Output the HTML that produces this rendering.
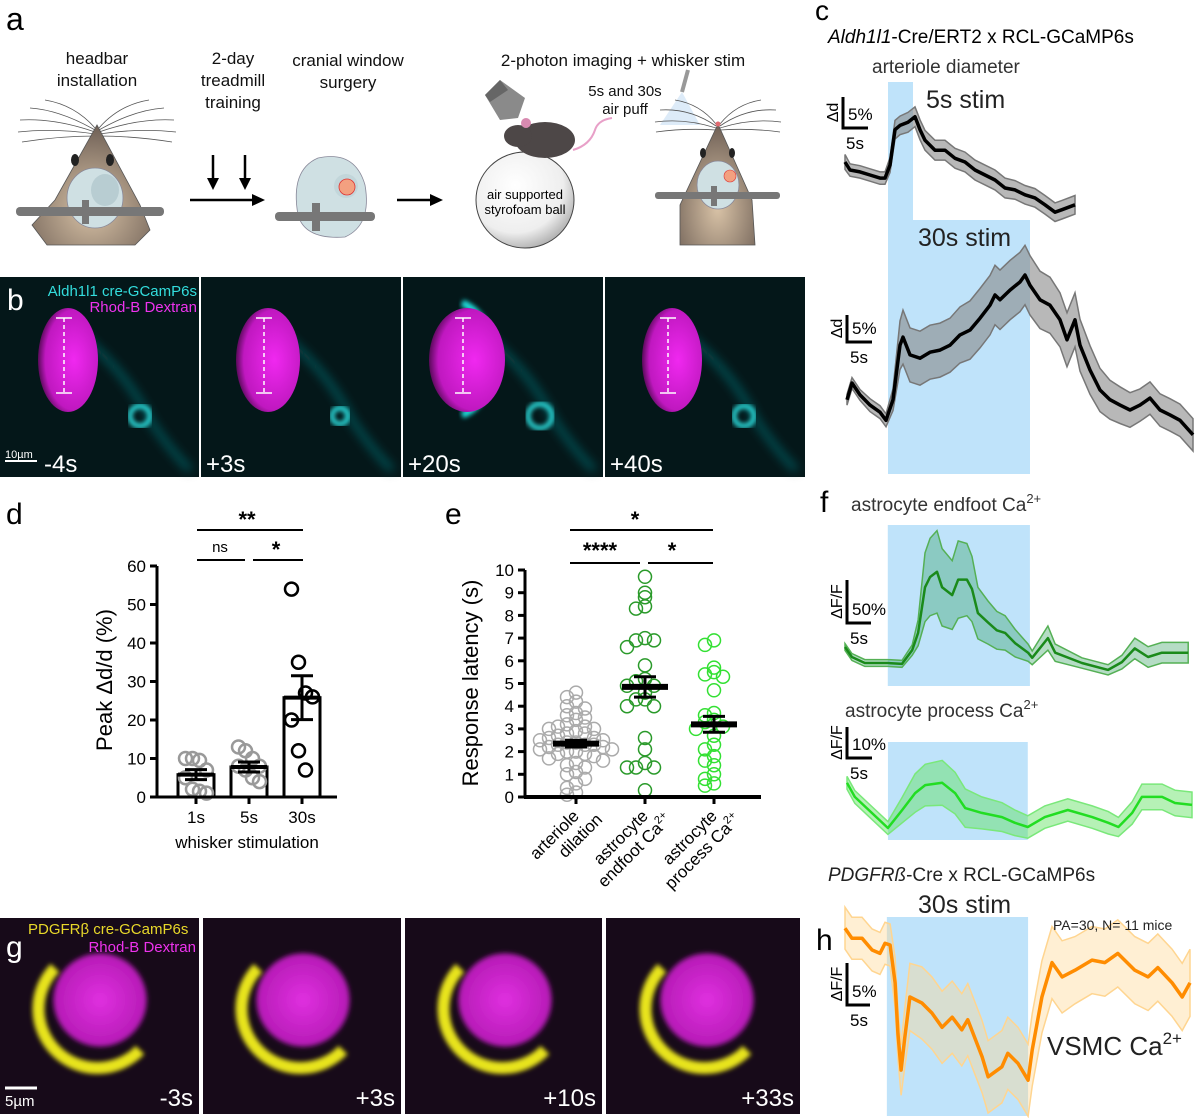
<!DOCTYPE html>
<html><head><meta charset="utf-8">
<style>
html,body{margin:0;padding:0;background:#fff;}
svg{display:block;font-family:"Liberation Sans",Arial,sans-serif;}
</style></head>
<body>
<svg id="fig" width="1200" height="1118" viewBox="0 0 1200 1118" xmlns="http://www.w3.org/2000/svg">
<defs>
<radialGradient id="ballg" cx="0.4" cy="0.35" r="0.7"><stop offset="0" stop-color="#fff"/><stop offset="0.7" stop-color="#eee"/><stop offset="1" stop-color="#aaa"/></radialGradient>
<radialGradient id="headg" cx="0.5" cy="0.7" r="0.7"><stop offset="0" stop-color="#d8c2a6"/><stop offset="1" stop-color="#6e5f55"/></radialGradient>
<radialGradient id="magb" cx="0.6" cy="0.5" r="0.6"><stop offset="0" stop-color="#f028f0"/><stop offset="0.8" stop-color="#c018c0"/><stop offset="1" stop-color="#5a0a5a"/></radialGradient>
<radialGradient id="magg" cx="0.5" cy="0.5" r="0.55"><stop offset="0" stop-color="#e030e0"/><stop offset="0.85" stop-color="#b81cb8"/><stop offset="1" stop-color="#3a0c3c"/></radialGradient>
<filter id="blur2"><feGaussianBlur stdDeviation="2.5"/></filter>
<filter id="blur4"><feGaussianBlur stdDeviation="5"/></filter>
</defs>

<!-- Panel a -->
<g>
<text x="6" y="30" font-size="32">a</text>
<g font-size="17" text-anchor="middle" fill="#111">
<text x="97" y="64"><tspan x="97">headbar</tspan><tspan x="97" dy="22">installation</tspan></text>
<text x="233" y="64"><tspan x="233">2-day</tspan><tspan x="233" dy="22">treadmill</tspan><tspan x="233" dy="22">training</tspan></text>
<text x="348" y="66"><tspan x="348">cranial window</tspan><tspan x="348" dy="22">surgery</tspan></text>
<text x="623" y="66">2-photon imaging + whisker stim</text>
<text x="625" y="96" font-size="15"><tspan x="625">5s and 30s</tspan><tspan x="625" dy="18">air puff</tspan></text>
</g>
<g>
<g stroke="#555" stroke-width="0.8" fill="none">
<path d="M95 130 Q60 110 30 108"/><path d="M95 132 Q55 118 20 120"/><path d="M95 134 Q55 128 18 132"/><path d="M95 136 Q60 136 22 142"/><path d="M95 128 Q75 105 45 100"/>
<path d="M99 130 Q134 110 164 108"/><path d="M99 132 Q139 118 174 120"/><path d="M99 134 Q139 128 176 132"/><path d="M99 136 Q134 136 172 142"/><path d="M99 128 Q119 105 149 100"/>
</g>
<path d="M97 125 L140 205 L150 230 L135 245 L47 245 L32 225 L55 200 Z" fill="url(#headg)" stroke="#555" stroke-width="0.8"/>
<ellipse cx="75" cy="160" rx="4" ry="6" fill="#222"/><ellipse cx="110" cy="160" rx="4" ry="6" fill="#222"/>
<ellipse cx="95" cy="198" rx="28" ry="30" fill="#cfe0e3" stroke="#889" stroke-width="0.8"/>
<ellipse cx="105" cy="190" rx="14" ry="16" fill="#b8cdd2"/>
<rect x="16" y="207" width="148" height="9" rx="4" fill="#777"/><rect x="82" y="200" width="7" height="24" fill="#777"/>
</g>
<g stroke="#000" stroke-width="2.5" fill="#000">
<line x1="213" y1="155" x2="213" y2="180"/><polygon points="207,178 219,178 213,190" stroke="none"/>
<line x1="245" y1="155" x2="245" y2="180"/><polygon points="239,178 251,178 245,190" stroke="none"/>
<line x1="190" y1="200" x2="255" y2="200"/><polygon points="252,194 265,200 252,206" stroke="none"/>
<line x1="397" y1="200" x2="432" y2="200"/><polygon points="430,194 443,200 430,206" stroke="none"/>
</g>
<g>
<path d="M318 158 Q355 150 365 185 Q372 225 345 237 Q305 240 298 215 Q290 170 318 158 Z" fill="#cfe0e3" stroke="#889" stroke-width="0.8"/>
<circle cx="346" cy="186" r="12" fill="#c2d6da"/><circle cx="347" cy="187" r="8" fill="#f3a080" stroke="#d33" stroke-width="0.8"/>
<rect x="275" y="212" width="100" height="9" rx="4" fill="#777"/><rect x="312" y="203" width="8" height="28" fill="#777"/>
</g>
<g>
<ellipse cx="525" cy="200" rx="49" ry="48" fill="url(#ballg)" stroke="#444" stroke-width="1"/>
<text x="525" y="199" font-size="13" text-anchor="middle">air supported</text>
<text x="525" y="214" font-size="13" text-anchor="middle">styrofoam ball</text>
</g>
<g>
<polygon points="485,95 500,80 525,98 518,118 500,120" fill="#8a8a8a"/><polygon points="485,95 500,80 508,90 490,102" fill="#666"/>
<ellipse cx="545" cy="140" rx="30" ry="18" fill="#4d4747"/><ellipse cx="518" cy="136" rx="14" ry="11" fill="#4d4747"/>
<circle cx="526" cy="123" r="5" fill="#d88ab0"/>
<path d="M573 150 Q590 145 595 130 Q598 120 612 118" stroke="#e8a0c8" stroke-width="2" fill="none"/>
</g>
<g>
<line x1="688" y1="70" x2="682" y2="92" stroke="#999" stroke-width="4"/>
<polygon points="682,92 660,125 700,125" fill="#cfe3f5" opacity="0.7"/>
</g>
<g>
<g stroke="#555" stroke-width="0.8" fill="none">
<path d="M716 126 Q690 108 660 110"/><path d="M716 128 Q685 118 655 122"/><path d="M716 130 Q685 128 656 132"/><path d="M716 124 Q700 104 675 100"/>
<path d="M720 126 Q746 108 776 110"/><path d="M720 128 Q751 118 781 122"/><path d="M720 130 Q751 128 780 132"/><path d="M720 124 Q736 104 761 100"/>
</g>
<path d="M718 124 L752 200 L755 245 L680 245 L680 205 Z" fill="url(#headg)" stroke="#555" stroke-width="0.8"/>
<circle cx="718" cy="124" r="2.5" fill="#e06a70"/>
<ellipse cx="703" cy="153" rx="3" ry="5" fill="#222"/><ellipse cx="732" cy="153" rx="3" ry="5" fill="#222"/>
<ellipse cx="718" cy="185" rx="21" ry="24" fill="#cfe0e3" stroke="#889" stroke-width="0.8"/>
<circle cx="730" cy="176" r="6" fill="#f3a080" stroke="#d33" stroke-width="0.6"/>
<rect x="655" y="192" width="125" height="7" rx="3" fill="#777"/><rect x="711" y="186" width="6" height="20" fill="#777"/>
</g>
</g>

<g id="panelb">
<rect x="0" y="277" width="805" height="200" fill="#041719"/>
<g stroke="#fff" stroke-width="2">
<line x1="200" y1="277" x2="200" y2="477"/><line x1="402" y1="277" x2="402" y2="477"/><line x1="604" y1="277" x2="604" y2="477"/>
</g>
</g>

<g id="panelg">
<rect x="0" y="918" width="800" height="196" fill="#170a19"/>
<g stroke="#fff" stroke-width="4">
<line x1="201" y1="918" x2="201" y2="1114"/><line x1="403" y1="918" x2="403" y2="1114"/><line x1="604" y1="918" x2="604" y2="1114"/>
</g>
</g>

<g id="charts"></g>
</svg>

<script>
// ---------- DATA ----------
const dCategories = ["1s","5s","30s"];
const dMeans = [5.8, 7.8, 25.8];
const dSems = [1.3, 1.3, 5.7];
const d1s = [10, 10, 9.5, 7, 5, 2, 1.5, 1];
const d5s = [13, 12, 10, 8, 8, 7, 5, 4];
const d30s = [54, 35, 27, 26, 20, 12, 7];
const dTicks = [0,10,20,30,40,50,60];
const eCategories = [["arteriole","dilation"],["astrocyte","endfoot Ca"],["astrocyte","process Ca"]];
const eMeans = [2.35, 4.85, 3.2];
const eSems = [0.15, 0.45, 0.35];
const eArteriole = [4.6,4.4,4.2,4.0,3.9,3.7,3.6,3.5,3.4,3.2,3.1,3.1,3.0,3.0,2.9,2.8,2.8,2.7,2.6,2.6,2.5,2.5,2.4,2.4,2.3,2.3,2.3,2.2,2.2,2.1,2.1,2.0,2.0,1.9,1.9,1.8,1.7,1.6,1.5,1.4,1.3,1.1,1.0,0.8,0.6,0.4,0.2,0.1];
const eEndfoot = [9.7,9.0,8.8,8.4,8.3,7.0,6.9,6.9,6.6,5.8,5.2,5.1,4.9,4.9,4.6,4.3,4.3,4.0,4.0,2.6,2.1,1.5,1.3,1.3,1.3,0.3];
const eProcess = [6.9,6.7,5.7,5.5,5.4,5.3,4.7,3.7,3.6,3.4,3.3,3.1,3.0,2.7,2.3,2.1,1.8,1.6,1.4,1.0,0.8,0.6,0.5];
const eTicks = [0,1,2,3,4,5,6,7,8,9,10];
const c5T = [0,1,3,5,7,8,9,10,11,12.6,14,15,16,18,20,22,24,26,28,30,32,34,36,38,40,42,43.4,46];
const c5V = [2.1,0.8,0.5,0,-0.5,-0.5,1.6,7.3,8,8.5,9.4,7.3,5.6,4,4,2.7,2.1,0.8,0,-0.8,-2.1,-2.4,-3.2,-3.7,-4.8,-6,-5.6,-4.8];
const c5S = [1.2,1,1,1,1,1,1.2,1.5,1.5,1.6,1.6,1.6,1.6,1.6,1.6,1.6,1.6,1.6,1.6,1.6,1.6,1.5,1.5,1.5,1.5,1.5,1.5,1.5];
const c5Stim = [8.6, 13.6];
const c30T = [0,1,2.6,4.6,6.6,7.8,9.2,10.6,11.2,12.6,14.6,16.6,18.6,20.6,22.6,24.6,26.6,28.6,29.6,30.6,32.6,34.6,35.6,36.6,38.6,40.6,42.6,44,45.6,46.6,48.6,50.6,52.6,54.6,56.6,58.6,60.6,62.6,64.6,66.6,69.2];
const c30V = [1.9,5.0,2.8,0.9,-0.4,-1.9,1.9,12.0,13.5,10.2,9.6,10.7,11.1,12.0,13.9,14.8,17.0,19.4,21.3,20.4,22.2,23.7,25.0,23.1,20.4,19.4,16.7,13.0,16.7,12.0,7.4,3.7,1.9,0.9,0,0.9,2.2,0,-0.9,-1.9,-4.6];
const c30S = [1,1,1,1.2,1.2,1.2,2,4.5,5,5,5,5,5,5,5.2,5.4,5.5,5.5,5.5,5.5,5.5,5.5,5.5,5.5,5.3,5.2,5,5,5,4.8,4.5,4,3.6,3.4,3.2,3,3,3,3,3,3];
const c30Stim = [8.2, 36.6];
const fEndT = [0,1.5,4.3,9.3,12.4,14.6,15.9,17.4,18.5,20,21.1,23.3,24.6,26.5,27.6,28.9,31.1,33,34.8,37,39.8,40.7,44.1,45.7,51.5,57.2,60.2,63,65.9,68.9,71.7,74.6];
const fEndV = [18.6,7,0,0,-1,15,35,88,100,106,88,79,97,97,86,58,47,38,35,23,12,6,29,12,0,-8,1,17,7,12,12,12];
const fEndS = [4,4,4,4,4,6,15,40,45,48,45,40,45,42,38,30,25,22,20,16,10,8,14,10,6,6,8,12,12,12,12,12];
const fEndStim = [9.3, 40.2];
const fProT = [0,1.7,5.4,8.9,12,14.8,17,20.7,23.5,25.7,29.3,33.7,36.5,39.3,43,48,53.3,56.8,59,62,64.1,68.5,71.3,75];
const fProV = [13.8,9.4,4.4,-0.3,5.3,10.6,13.1,13.8,10.6,5.9,4.4,3.1,1.3,0,3.1,5.3,3.1,1.3,0,4.4,9.4,9.4,7.5,6.9];
const fProS = [2,2,2,2,4,6,6.5,7,6.5,6,5,4.5,4,3.5,3.5,3.5,3.5,3.5,3,3.5,4,4,4,4];
const fProStim = [8.9, 39.3];
const hT = [0,1.5,3.7,5.9,7.6,8.7,9.8,10.9,11.5,12.2,13,14.1,16.7,18.9,21.1,23.3,25.4,26.7,29.8,31.1,34.1,35.4,37.6,39.8,40.7,42.8,45,47.2,50,53.7,56.5,59.3,63,65.9,68,71.1,73.3,75];
const hV = [2.6,1.4,1.4,0,-0.4,0.8,0.6,-3.9,-9.9,-14.3,-10.4,-5.6,-6.3,-7.5,-9.2,-8,-9.5,-8.3,-12.7,-15.1,-13.9,-12.3,-13.5,-15.5,-11.9,-5.6,-1.5,-3.2,-2.4,-1.2,-1.5,-0.4,-2.4,-3.2,-2.1,-3.9,-5.6,-3.9];
const hS = [2.5,2.5,2.5,2.5,2.5,2.5,2.5,3,3,3,3.5,4,4.3,4.3,4.3,4.3,4.3,4.3,4.3,4.3,4.3,4.3,4.3,4.3,4.3,4.3,4.3,4.3,4,4,4,4,4,4,4,4,4,4];
const hStim = [9.1, 39.8];

// ---------- HELPERS ----------
const NS = "http://www.w3.org/2000/svg";
const root = document.getElementById("charts");
function mk(tag, attrs, parent){
  const e = document.createElementNS(NS, tag);
  for (const k in attrs) e.setAttribute(k, attrs[k]);
  (parent||root).appendChild(e);
  return e;
}
function txt(str, x, y, size, parent, extra){
  const e = mk("text", Object.assign({x:x, y:y, "font-size":size}, extra||{}), parent);
  e.textContent = str;
  return e;
}
function linScale(d0,d1,r0,r1){ return v => r0 + (v-d0)*(r1-r0)/(d1-d0); }

// ---------- Panel b & g images ----------
(function(){
  const pb = document.getElementById("panelb");
  const frames = [0, 202, 404, 606];
  const vx = [68, 66, 63, 66];
  const vr = [30, 32, 38, 30];
  const cellX = [140, 138, 136, 138];
  const cellR = [10, 8, 12, 10];
  const tl = ["-4s","+3s","+20s","+40s"];
  frames.forEach((fx,i)=>{
    const g = mk("g", {}, pb);
    
    
    mk("path", {d:`M${fx+60} 320 Q${fx+120} 360 ${fx+150} 420 Q${fx+170} 450 ${fx+190} 470`, stroke:"#0a5a5e", "stroke-width":6, fill:"none", filter:"url(#blur4)"}, g);
    if (i===2) mk("path",{d:`M${fx+vx[i]-5} 303 A${vr[i]+4} 58 0 0 1 ${fx+vx[i]-5} 415`, stroke:"#22e0e0", "stroke-width":7, fill:"none", filter:"url(#blur2)"}, g);
    const v = mk("ellipse",{cx:fx+vx[i], cy:360, rx:vr[i], ry:52, fill:"url(#magb)"}, g);
    
    
    const cx = fx+vx[i]-4;
    mk("line",{x1:cx,y1:318,x2:cx,y2:393,stroke:"#fff","stroke-width":1.5,"stroke-dasharray":"4,3"}, g);
    mk("line",{x1:cx-8,y1:318,x2:cx+8,y2:318,stroke:"#fff","stroke-width":1.5}, g);
    mk("line",{x1:cx-8,y1:393,x2:cx+8,y2:393,stroke:"#fff","stroke-width":1.5}, g);
    const c = mk("circle",{cx:fx+cellX[i], cy:416, r:cellR[i], fill:"none", stroke:"#2ad6d6", "stroke-width":5, filter:"url(#blur2)"}, g);
    
    
    const t = txt(tl[i], fx+(i===0?44:4), 472, 24, g, {fill:"#fff"});
    
    
  });
  const b = txt("b", 7, 310, 30, pb, {fill:"#fff"});
  
  
  const l1 = txt("Aldh1l1 cre-GCamP6s", 197, 296, 15, pb, {fill:"#33dddd","text-anchor":"end"});
  
  
  const l2 = txt("Rhod-B Dextran", 197, 312, 15, pb, {fill:"#ee33ee","text-anchor":"end"});
  
  
  mk("line",{x1:5,y1:461,x2:37,y2:461,stroke:"#fff","stroke-width":2}, pb);
  const sb = txt("10µm", 5, 458, 11, pb, {fill:"#fff"});
  
  

  const pg = document.getElementById("panelg");
  const gf = [0, 203, 405, 607];
  const gr = [199, 401, 602, 800];
  const gl = ["-3s","+3s","+10s","+33s"];
  gf.forEach((fx,i)=>{
    const g = mk("g", {}, pg);
    
    
    const v = mk("circle",{cx:fx+100, cy:1000, r:47, fill:"url(#magg)", filter:"url(#blur2)"}, g);
    
    
    const a = mk("path",{d:`M${fx+55} 968 A54 54 0 0 0 ${fx+140} 1050`, stroke:"#e8e41c","stroke-width":12, fill:"none", filter:"url(#blur2)"}, g);
    
    
    const t = txt(gl[i], gr[i]-6, 1106, 24, g, {fill:"#fff","text-anchor":"end"});
    
    
  });
  const gL = txt("g", 6, 957, 30, pg, {fill:"#fff"});
  
  
  const g1 = txt("PDGFRβ cre-GCamP6s", 28, 934, 15, pg, {fill:"#e8d82a"});
  
  
  const g2 = txt("Rhod-B Dextran", 196, 952, 15, pg, {fill:"#ee33ee","text-anchor":"end"});
  
  
  mk("line",{x1:5,y1:1088,x2:37,y2:1088,stroke:"#fff","stroke-width":3}, pg);
  const gs = txt("5µm", 5, 1106, 15, pg, {fill:"#fff"});
  
  
})();

// ---------- Panel d ----------
(function(){
  const g = mk("g", {});
  
  
  const y = linScale(0, 60, 797, 566);
  const xC = i => 196 + i*53;
  const groups = [d1s, d5s, d30s];
  dMeans.forEach((m,i)=>{
    const b = mk("rect",{x:xC(i)-18, y:y(m), width:36, height:y(0)-y(m), fill:"#fff", stroke:"#000","stroke-width":3}, g);
    
    
  });
  groups.forEach((arr,i)=>{
    const col = i===2 ? "#000" : "#999";
    arr.forEach((v,j)=>{
      const off = ((j%4)-1.5)*7;
      const p = mk("circle",{cx:xC(i)+off, cy:y(v), r:6.5, fill:"none", stroke:col,"stroke-width":2.5}, g);
      
      
    });
  });
  dMeans.forEach((m,i)=>{
    const e = mk("g",{stroke:"#000","stroke-width":3}, g);
    
    
    mk("line",{x1:xC(i),y1:y(m+dSems[i]),x2:xC(i),y2:y(m-dSems[i])}, e);
    mk("line",{x1:xC(i)-11,y1:y(m+dSems[i]),x2:xC(i)+11,y2:y(m+dSems[i])}, e);
    mk("line",{x1:xC(i)-11,y1:y(m-dSems[i]),x2:xC(i)+11,y2:y(m-dSems[i])}, e);
    mk("line",{x1:xC(i)-18,y1:y(m),x2:xC(i)+18,y2:y(m),"stroke-width":4}, e);
  });
  const ax = mk("g",{stroke:"#000","stroke-width":3}, g);
  
  
  mk("line",{x1:157,y1:y(60),x2:157,y2:y(0)+1.5}, ax);
  mk("line",{x1:157,y1:y(0),x2:337,y2:y(0)}, ax);
  dTicks.forEach(t=>{
    mk("line",{x1:150,y1:y(t),x2:157,y2:y(t)}, ax);
    const l = txt(String(t), 146, y(t)+6, 17, g, {"text-anchor":"end"});
    
    
  });
  dCategories.forEach((c,i)=>{
    mk("line",{x1:xC(i),y1:y(0),x2:xC(i),y2:y(0)+7,stroke:"#000","stroke-width":3}, g);
    const l = txt(c, xC(i), 823, 17, g, {"text-anchor":"middle"});
    
    
  });
  const xt = txt("whisker stimulation", 247, 848, 17, g, {"text-anchor":"middle"});
  
  
  const yt = txt("Peak Δd/d (%)", 0, 0, 22, g, {"text-anchor":"middle", transform:"translate(112,680) rotate(-90)"});
  
  
  const s = mk("g",{stroke:"#000","stroke-width":2}, g);
  
  
  mk("line",{x1:197,y1:530,x2:303,y2:530}, s);
  mk("line",{x1:197,y1:560,x2:245,y2:560}, s);
  mk("line",{x1:253,y1:560,x2:303,y2:560}, s);
  txt("**", 247, 527, 22, g, {"text-anchor":"middle","font-weight":"bold"});
  txt("ns", 220, 552, 15, g, {"text-anchor":"middle"});
  txt("*", 276, 557, 22, g, {"text-anchor":"middle","font-weight":"bold"});
  const L = txt("d", 6, 524, 30, g);
  
  
})();

// ---------- Panel e ----------
(function(){
  const g = mk("g", {});
  
  
  const y = linScale(0, 10, 797, 570);
  const xC = i => 576 + i*69;
  const groups = [eArteriole, eEndfoot, eProcess];
  const cols = ["#aaa","#2a9a2a","#33e033"];
  groups.forEach((arr,i)=>{
    const counts = {};
    arr.forEach((v,j)=>{
      const bin = Math.round(v*2.2);
      const k = counts[bin] = (counts[bin]||0)+1;
      const off = (k%2 ? 1 : -1) * Math.floor(k/2) * 9;
      const p = mk("circle",{cx:xC(i)+off, cy:y(v), r:6.5, fill:"none", stroke:cols[i],"stroke-width":1.5}, g);
      
      
    });
  });
  eMeans.forEach((m,i)=>{
    const e = mk("g",{stroke:"#000","stroke-width":3}, g);
    
    
    mk("line",{x1:xC(i),y1:y(m+eSems[i]),x2:xC(i),y2:y(m-eSems[i])}, e);
    mk("line",{x1:xC(i)-11,y1:y(m+eSems[i]),x2:xC(i)+11,y2:y(m+eSems[i])}, e);
    mk("line",{x1:xC(i)-11,y1:y(m-eSems[i]),x2:xC(i)+11,y2:y(m-eSems[i])}, e);
    mk("line",{x1:xC(i)-23,y1:y(m),x2:xC(i)+23,y2:y(m),"stroke-width":6}, e);
  });
  const ax = mk("g",{stroke:"#000","stroke-width":3}, g);
  
  
  mk("line",{x1:525,y1:y(10),x2:525,y2:y(0)}, ax);
  mk("line",{x1:524,y1:y(0),x2:761,y2:y(0),"stroke-width":4}, ax);
  eTicks.forEach(t=>{
    mk("line",{x1:518,y1:y(t),x2:525,y2:y(t)}, ax);
    const l = txt(String(t), 514, y(t)+6, 17, g, {"text-anchor":"end"});
    
    
  });
  eCategories.forEach((c,i)=>{
    mk("line",{x1:xC(i),y1:y(0),x2:xC(i),y2:y(0)+7,stroke:"#000","stroke-width":3}, g);
    const t = mk("text",{"font-size":17,"text-anchor":"end",transform:`translate(${xC(i)+4},${y(0)+20}) rotate(-45)`}, g);
    
    
    const s1 = mk("tspan",{x:0,y:0}, t); s1.textContent = c[0];
    const s2 = mk("tspan",{x:14,dy:19}, t); s2.textContent = c[1];
    if (i>0){ const s3 = mk("tspan",{dy:-7,"font-size":11}, t); s3.textContent = "2+"; }
  });
  const yt = txt("Response latency  (s)", 0, 0, 22, g, {"text-anchor":"middle", transform:"translate(478,683) rotate(-90)"});
  
  
  const s = mk("g",{stroke:"#000","stroke-width":2}, g);
  
  
  mk("line",{x1:570,y1:530,x2:713,y2:530}, s);
  mk("line",{x1:570,y1:563,x2:640,y2:563}, s);
  mk("line",{x1:648,y1:563,x2:713,y2:563}, s);
  txt("*", 635, 527, 22, g, {"text-anchor":"middle","font-weight":"bold"});
  txt("****", 600, 558, 22, g, {"text-anchor":"middle","font-weight":"bold"});
  txt("*", 672, 558, 22, g, {"text-anchor":"middle","font-weight":"bold"});
  const L = txt("e", 445, 524, 30, g);
  
  
})();

// ---------- Trace helper ----------
function trace(name, T, V, S, opt){
  const g = mk("g", {});
  
  
  const x = t => opt.x0 + t*opt.pxs;
  const y = v => opt.y0 - v*opt.pxu;
  if (opt.stim){
    const r = mk("rect",{x:x(opt.stim[0]), y:opt.sy0, width:x(opt.stim[1])-x(opt.stim[0]), height:opt.sy1-opt.sy0, fill:"#bfe3fa"}, g);
    
    
  }
  let up = "", lo = "";
  T.forEach((t,i)=>{ up += (i?"L":"M") + x(t).toFixed(1) + " " + y(V[i]+S[i]).toFixed(1) + " "; });
  for (let i=T.length-1;i>=0;i--) lo += "L" + x(T[i]).toFixed(1) + " " + y(V[i]-S[i]).toFixed(1) + " ";
  const band = mk("path",{d:up+lo+"Z", fill:opt.band, "fill-opacity":opt.bandOp, stroke:opt.edge, "stroke-width":1.5}, g);
  
  
  let d = "";
  T.forEach((t,i)=>{ d += (i?"L":"M") + x(t).toFixed(1) + " " + y(V[i]).toFixed(1) + " "; });
  const ln = mk("path",{d:d, fill:"none", stroke:opt.color, "stroke-width":opt.lw, "stroke-linejoin":"round"}, g);
  
  
  return g;
}
function scaleBar(x, y0, h, w, vlabel, ylab){
  const g = mk("g", {});
  
  
  mk("line",{x1:x,y1:y0,x2:x,y2:y0+h,stroke:"#000","stroke-width":3}, g);
  mk("line",{x1:x-1.5,y1:y0+h,x2:x+w,y2:y0+h,stroke:"#000","stroke-width":3}, g);
  txt(vlabel, x+5, y0+h-8, 17, g);
  txt("5s", x+3, y0+h+21, 17, g);
  txt(ylab, 0, 0, 16, g, {"text-anchor":"middle", transform:`translate(${x-5},${y0+h/2}) rotate(-90)`});
}

// ---------- Panel c ----------
trace("trace-5s-stim", c5T, c5V, c5S, {x0:845, pxs:5, y0:175, pxu:6.2, stim:c5Stim, sy0:82, sy1:220, band:"#888", bandOp:0.6, edge:"#777", color:"#000", lw:3.5});
trace("trace-30s-stim", c30T, c30V, c30S, {x0:847, pxs:5, y0:410, pxu:5.4, stim:c30Stim, sy0:220, sy1:474, band:"#888", bandOp:0.6, edge:"#777", color:"#000", lw:3.5});
scaleBar(843, 97, 31, 25, "5%", "Δd");
scaleBar(847, 315, 27, 25, "5%", "Δd");
(function(){
  const c = txt("c", 815, 20, 28);
  
  
  const t = mk("text",{x:828,y:43,"font-size":19});
  
  
  const a = mk("tspan",{"font-style":"italic"}, t); a.textContent = "Aldh1l1";
  const b = mk("tspan",{}, t); b.textContent = "-Cre/ERT2 x RCL-GCaMP6s";
  const s = txt("arteriole diameter", 872, 73, 19, null, {fill:"#333"});
  
  
  const s5 = txt("5s stim", 926, 108, 25, null, {fill:"#222"});
  
  
  const s30 = txt("30s stim", 918, 246, 25, null, {fill:"#222"});
  
  
})();

// ---------- Panel f ----------
trace("trace-endfoot-ca", fEndT, fEndV, fEndS, {x0:845, pxs:4.6, y0:663, pxu:0.86, stim:fEndStim, sy0:525, sy1:686, band:"#2a9a5a", bandOp:0.35, edge:"#55b055", color:"#1a8a1a", lw:2.5});
trace("trace-process-ca", fProT, fProV, fProS, {x0:847, pxs:4.6, y0:827, pxu:3.2, stim:fProStim, sy0:742, sy1:840, band:"#5de05d", bandOp:0.45, edge:"#7ae87a", color:"#22dd22", lw:2.5});
scaleBar(847, 580, 43, 24, "50%", "ΔF/F");
scaleBar(847, 727, 31, 25, "10%", "ΔF/F");
(function(){
  const f = txt("f", 820, 512, 30);
  
  
  const a = mk("text",{x:851,y:511,"font-size":19,fill:"#333"});
  
  
  a.textContent = "astrocyte endfoot Ca";
  const a2 = mk("tspan",{dy:-8,"font-size":13}, a); a2.textContent = "2+";
  const b = mk("text",{x:845,y:717,"font-size":19,fill:"#333"});
  
  
  b.textContent = "astrocyte process Ca";
  const b2 = mk("tspan",{dy:-8,"font-size":13}, b); b2.textContent = "2+";
})();

// ---------- Panel h ----------
trace("trace-vsmc-ca", hT, hV, hS, {x0:845, pxs:4.6, y0:950, pxu:8.4, stim:hStim, sy0:917, sy1:1116, band:"#ffd890", bandOp:0.4, edge:"#ffd590", color:"#ff8c00", lw:3.5});
scaleBar(847, 963, 42, 23, "5%", "ΔF/F");
(function(){
  const h = txt("h", 816, 950, 30);
  
  
  const t = mk("text",{x:828,y:881,"font-size":19,fill:"#222"});
  
  
  const a = mk("tspan",{"font-style":"italic"}, t); a.textContent = "PDGFRß";
  const b = mk("tspan",{}, t); b.textContent = "-Cre x RCL-GCaMP6s";
  const s = txt("30s stim", 918, 913, 25, null, {fill:"#222"});
  
  
  const n = txt("PA=30, N= 11 mice", 1053, 930, 14, null, {fill:"#222"});
  
  
  const v = mk("text",{x:1047,y:1055,"font-size":26,fill:"#222"});
  
  
  v.textContent = "VSMC Ca";
  const v2 = mk("tspan",{dy:-11,"font-size":17}, v); v2.textContent = "2+";
})();
</script>
</body></html>
